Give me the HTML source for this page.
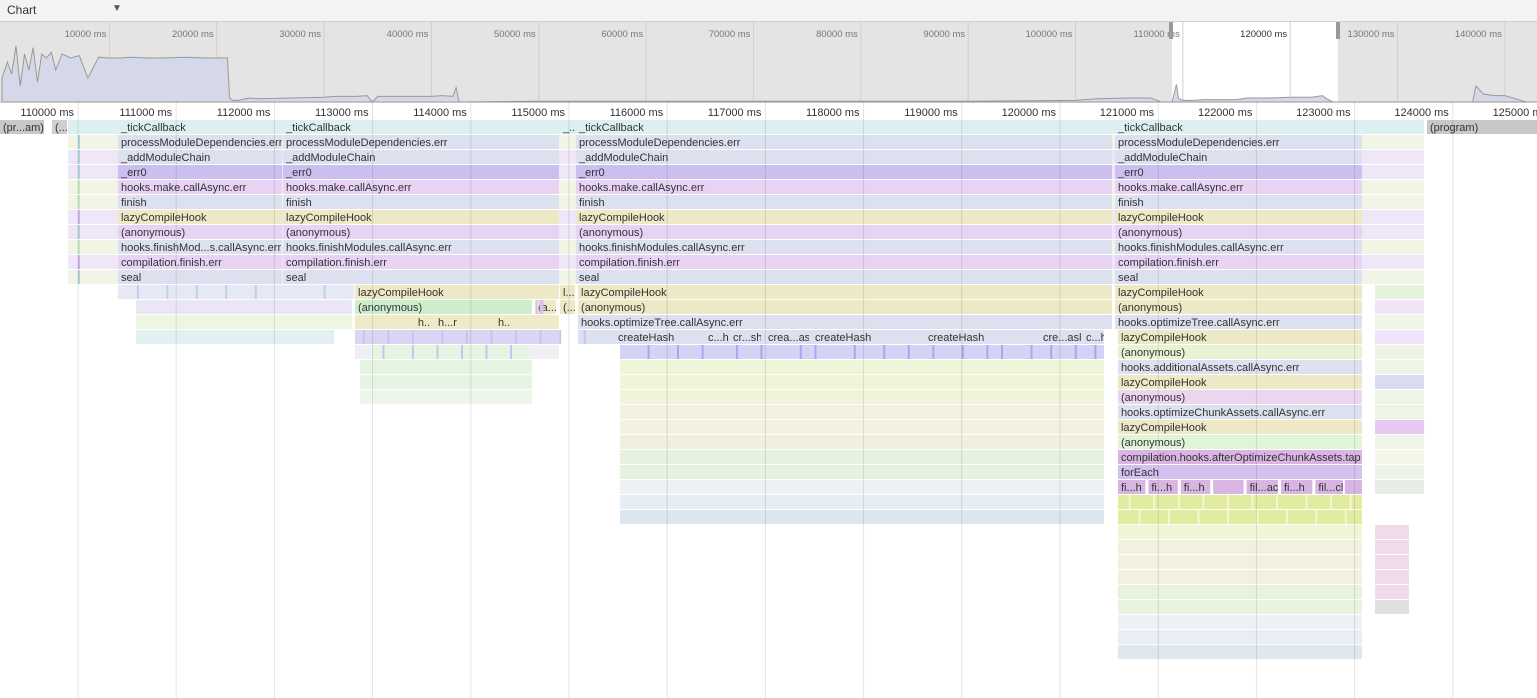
<!DOCTYPE html>
<html><head><meta charset="utf-8">
<style>
html,body{margin:0;padding:0;background:#fff;width:1537px;height:698px;overflow:hidden;font-family:"Liberation Sans",sans-serif;}
#hdr{position:absolute;left:0;top:0;width:1537px;height:21px;background:#f3f3f3;border-bottom:1px solid #d0d0d0;}
#hdr .t{position:absolute;left:7px;top:3px;font-size:12px;color:#333;}
#hdr .a{position:absolute;left:112px;top:3px;font-size:10px;color:#555;}
svg{position:absolute;left:0;top:0;}
</style></head><body>
<div id="hdr"><span class="t">Chart</span><span class="a">▼</span></div>
<svg id="chart" width="1537" height="698"></svg>
<script>
// ---- overview data ----
const ovTicks=[10000,20000,30000,40000,50000,60000,70000,80000,90000,100000,110000,120000,130000,140000];
const ovTimes=[0,500,900,1300,1700,2100,2500,2900,3300,3700,4100,4600,5000,5600,6400,7200,8000,9000,10000,11000,12000,13500,15000,17000,19000,21000,21200,21500,22000,23000,24000,30000,31000,33000,34000,34500,35000,38000,40000,41000,42000,42300,42500,42600,50000,60000,70000,80000,90000,100000,102000,105000,107000,108000,108500,109000,109400,109600,110000,111000,112000,115000,116000,118000,120000,121000,122000,123000,123400,124000,130000,135000,137000,137300,138000,139000,140000,142000,143000];
const ovVals=[0.3,0.5,0.35,0.7,0.2,0.6,0.4,0.68,0.25,0.6,0.55,0.62,0.4,0.6,0.55,0.58,0.3,0.56,0.55,0.55,0.56,0.55,0.55,0.56,0.55,0.55,0.05,0.02,0.02,0.05,0.04,0.06,0.07,0.07,0.08,0.0,0.07,0.07,0.07,0.08,0.07,0.18,0.05,0.0,0.01,0.01,0.01,0.01,0.01,0.02,0.04,0.05,0.05,0.0,0.0,0.0,0.22,0.04,0.02,0.02,0.03,0.03,0.05,0.05,0.06,0.06,0.06,0.08,0.04,0.0,0.0,0.0,0.0,0.2,0.1,0.08,0.08,0.0,0.0];
// ---- main flame chart data ----
const axTicks=[110000,111000,112000,113000,114000,115000,116000,117000,118000,119000,120000,121000,122000,123000,124000,125000];
const segRows=[0,0,0,0,0,0,0,0,1,1,1,1,1,2,2,2,2,2,3,3,3,3,3,4,4,4,4,4,5,5,5,5,5,6,6,6,6,6,7,7,7,7,7,8,8,8,8,8,9,9,9,9,9,10,10,10,10,10,
11,11,11,11,11,12,12,12,12,12,13,13,13,14,14,14,14,14,14,14,14,14,14,14,15,15,15,16,16,16,17,17,17,18,18,18,19,19,20,20,21,21,22,22,23,23,24,24,24,24,24,24,24,24,24,25,25,26,26,27,28,29,30,31,32,33,34,35,27,28,29,30,31,32,
0,12,13,14,15,13,13,13,11,12,13,14,15,16,17,18,19,20,21,22,23,24];
const segStart=[109206,109735,109898,110407,112088,114908,115071,120560,109898,110407,112088,115071,120560,109898,110407,112088,115071,120560,109898,110407,112088,115071,120560,109898,110407,112088,115071,120560,109898,110407,112088,115071,120560,109898,110407,112088,115071,120560,109898,110407,112088,115071,120560,109898,110407,112088,115071,120560,109898,110407,112088,115071,120560,109898,110407,112088,115071,120560,
110407,112821,114908,115092,120560,112821,114654,114908,115092,120560,112821,115092,120560,112821,115092,115468,116385,116640,116996,117474,118625,119796,120234,120590,112821,115519,120590,115519,112872,120590,115519,112872,120590,115519,112872,120590,115519,120590,115519,120590,115519,120590,115519,120590,115519,120590,115519,120590,120900,121230,121560,121900,122250,122600,122900,115519,120590,115519,120590,120590,120590,120590,120590,120590,120590,120590,120590,120590,123208,123208,123208,123208,123208,123208,
123737,110591,110591,110591,112994,113431,113635,114246,123208,123208,123208,123208,123208,123208,123208,123208,123208,123208,123208,123208,123208,123208];
const segEnd=[109664,109898,123717,112088,114908,115071,120539,123085,123717,112088,114908,120539,123085,123717,112088,114908,120539,123085,123717,112088,114908,120539,123085,123717,112088,114908,120539,123085,123717,112088,114908,120539,123085,123717,112088,114908,120539,123085,123717,112088,114908,120539,123085,123717,112088,114908,120539,123085,123717,112088,114908,120539,123085,123717,112088,114908,120539,123085,
112821,114908,115071,120539,123085,114633,114878,115071,120539,123085,114908,120539,123085,114908,120458,116334,116640,116965,117454,118600,119796,120224,120458,123085,114908,120458,123085,120458,114633,123085,120458,114633,123085,120458,114633,123085,120458,123085,120458,123085,120458,123085,120458,123085,120458,123085,120458,120880,121210,121540,121880,122230,122580,122890,123085,120458,123085,120458,123085,123085,123085,123085,123085,123085,123085,123085,123085,123085,123564,123564,123564,123564,123564,123564,
124900,112800,112800,112617,114603,113605,113910,114419,123717,123717,123717,123717,123717,123717,123717,123717,123717,123717,123717,123717,123717,123717];
const segLabels=["(pr...am)","(...","","_tickCallback","_tickCallback","_...","_tickCallback","_tickCallback",
"","processModuleDependencies.err","processModuleDependencies.err","processModuleDependencies.err","processModuleDependencies.err",
"","_addModuleChain","_addModuleChain","_addModuleChain","_addModuleChain",
"","_err0","_err0","_err0","_err0",
"","hooks.make.callAsync.err","hooks.make.callAsync.err","hooks.make.callAsync.err","hooks.make.callAsync.err",
"","finish","finish","finish","finish",
"","lazyCompileHook","lazyCompileHook","lazyCompileHook","lazyCompileHook",
"","(anonymous)","(anonymous)","(anonymous)","(anonymous)",
"","hooks.finishMod...s.callAsync.err","hooks.finishModules.callAsync.err","hooks.finishModules.callAsync.err","hooks.finishModules.callAsync.err",
"","compilation.finish.err","compilation.finish.err","compilation.finish.err","compilation.finish.err",
"","seal","seal","seal","seal",
"","lazyCompileHook","l...","lazyCompileHook","lazyCompileHook",
"(anonymous)","(a...)","(...","(anonymous)","(anonymous)",
"","hooks.optimizeTree.callAsync.err","hooks.optimizeTree.callAsync.err",
"","","createHash","c...h","cr...sh","crea...ash","createHash","createHash","cre...ash","c...h","lazyCompileHook",
"","","(anonymous)","","","hooks.additionalAssets.callAsync.err","","","lazyCompileHook","","","(anonymous)",
"","hooks.optimizeChunkAssets.callAsync.err","","lazyCompileHook","","(anonymous)","","compilation.hooks.afterOptimizeChunkAssets.tap","","forEach",
"","fi...h","fi...h","fi...h","","fil...ach","fi...h","fil...ch","",
"","","","","","","","","","","","","","","","","","","",
"(program)","","","","","h...","h...r","h...","","","","","","","","","","","","","",""];
const segColors=["#c8c8c8","#cfcfcf","#ddf0f0","#ddf0f0","#ddf0f0","#ddf0f0","#ddf0f0","#ddf0f0",
"#f1f5e6","#dde0ef","#dde0ef","#dde0ef","#dde0ef",
"#efe6f7","#dde0ef","#dde0ef","#dde0ef","#dde0ef",
"#efe6f7","#cbbff0","#cbbff0","#cbbff0","#cbbff0",
"#f1f5e6","#e8d3f5","#e8d3f5","#e8d3f5","#e8d3f5",
"#f1f5e6","#dde0ef","#dde0ef","#dde0ef","#dde0ef",
"#efe6f7","#ede8c6","#ede8c6","#ede8c6","#ede8c6",
"#efe6f7","#e8d3f5","#e8d3f5","#e8d3f5","#e8d3f5",
"#f1f5e6","#dde0ef","#dde0ef","#dde0ef","#dde0ef",
"#efe6f7","#e8d3f5","#e8d3f5","#e8d3f5","#e8d3f5",
"#f1f5e6","#dde0ef","#dde0ef","#dde0ef","#dde0ef",
"#e6e9f5","#ede8c6","#ede8c6","#ede8c6","#ede8c6",
"#cdeecd","#ede8c6","#ede8c6","#ede8c6","#ede8c6",
"#efebc9","#dde0ef","#dde0ef",
"#d8d5f5","#dde0ef","#dde0ef","#dde0ef","#dde0ef","#dde0ef","#dde0ef","#dde0ef","#dde0ef","#dde0ef","#ede8c6",
"#efeff4","#d5d3f5","#e8f3d5","#eff5d8","#e6f5e3","#dde0ef","#eff5d8","#e6f5e3","#ede8c6","#eef5d8","#eef5ea","#ecd5ef",
"#f3f1df","#dde0ef","#f3f1df","#ede8c6","#f3efe0","#e0f5d8","#e6f2df","#d9b5e3","#e6f2df","#d5c0f0",
"#edf1f5","#d9b5e3","#d9b5e3","#d9b5e3","#d9b5e3","#d9b5e3","#d9b5e3","#d9b5e3","#d9b5e3",
"#e6edf4","#e2eca0","#dde6ef","#e2eca0","#f0f5d5","#f3f0e0","#f3f0e0","#f3f0e0","#e8f3df","#eaf3e0","#edf1f5","#e8eef5","#dfe7ef","#efdcea","#efdcea","#efdcea","#efdcea","#efdcea","#e0e0e0",
"#c8c8c8","#ebe6f5","#eef5e0","#e3f0f3","#e6f5e3","#efebc9","#efebc9","#efebc9",
"#e6f3dc","#f1e3f8","#eef5e6","#f1e3f8","#eef5e6","#eef5e6","#d8dcf0","#eef5e6","#eef5e6","#e8c8f0","#eef5e6","#f5f5ea","#eef5e6","#e6ede6"];
// stripes (thin darker call marks)
const stripeRows=[15,15,15,15,15,15,15,15,15,15,15,15,15,15,15,15,15,15,25,25,25,25,25,25,25,25,25,25,26,26,26,26,26,26,26,26,14,14,14,14,14,14,14,14,14,14,12,12,12,11,11,11,11,11,11,1,2,3,4,5,6,7,8,9,10,15,15,15,15,15,15];
const stripeTimes=[115800,116100,116350,116700,116950,117350,117500,117900,118200,118450,118700,119000,119250,119400,119700,119900,120150,120350,120700,120950,121200,121450,121700,121950,122200,122500,122750,122950,120800,121100,121400,121700,122000,122300,122600,122900,112900,113150,113400,113700,113950,114200,114450,114700,114900,115150,114660,114700,114720,110600,110900,111200,111500,111800,112500,110000,110000,110000,110000,110000,110000,110000,110000,110000,110000,113100,113400,113650,113900,114150,114400];
const stripeColors=["#a9a5ee","#a9a5ee","#a9a5ee","#a9a5ee","#a9a5ee","#a9a5ee","#a9a5ee","#a9a5ee","#a9a5ee","#a9a5ee","#a9a5ee","#a9a5ee","#a9a5ee","#a9a5ee","#a9a5ee","#a9a5ee","#a9a5ee","#a9a5ee","#f4f7d0","#f4f7d0","#f4f7d0","#f4f7d0","#f4f7d0","#f4f7d0","#f4f7d0","#f4f7d0","#f4f7d0","#f4f7d0","#f4f7d0","#f4f7d0","#f4f7d0","#f4f7d0","#f4f7d0","#f4f7d0","#f4f7d0","#f4f7d0","#c9c3f0","#c9c3f0","#c9c3f0","#c9c3f0","#c9c3f0","#c9c3f0","#c9c3f0","#c9c3f0","#c9c3f0","#c9c3f0","#d8c0f0","#d8c0f0","#d8c0f0","#c8cce6","#c8cce6","#c8cce6","#c8cce6","#c8cce6","#c8cce6","#a8d5e0","#a8d5e0","#a8d5e0","#c0e8c0","#c0e8c0","#d0b0e8","#a8d5e0","#c0e8c0","#d0b0e8","#a8d5e0","#c9c3f0","#c9c3f0","#c9c3f0","#c9c3f0","#c9c3f0","#c9c3f0"];

const NS="http://www.w3.org/2000/svg";
const svg=document.getElementById('chart');
function mk(tag,attrs,parent){const e=document.createElementNS(NS,tag);for(const k in attrs)e.setAttribute(k,attrs[k]);(parent||svg).appendChild(e);return e;}
const ox=t=>2+t*0.010735;
const oy=v=>102-v*80;
const mx=t=>78+(t-110000)*0.0982;
const rowY=r=>120+r*15;

// overview
const ov=mk('g',{});


mk('rect',{x:0,y:22,width:1537,height:80,fill:'#e4e4e4'},ov);
const sel=mk('rect',{x:1172,y:22,width:166,height:80,fill:'#ffffff'},ov);


ovTicks.forEach(t=>{
  const x=ox(t);
  mk('line',{x1:x,y1:22,x2:x,y2:102,stroke:'#cfcfcf','stroke-width':1},ov);
  const tx=mk('text',{x:x-3,y:37,'text-anchor':'end','font-size':'9.5',fill:t===120000?'#333':'#777'},ov);
  tx.textContent=t+' ms';
  
  
});
let pts=ovTimes.map((t,i)=>ox(t)+','+oy(ovVals[i])).join(' ');
const area=mk('polygon',{points:ox(0)+',102 '+pts+' '+ox(ovTimes[ovTimes.length-1])+',102',fill:'#d5d8e8',stroke:'#999','stroke-width':1},ov);


const h1=mk('rect',{x:1169,y:22,width:4,height:17,fill:'#999'},ov);


const h2=mk('rect',{x:1336,y:22,width:4,height:17,fill:'#999'},ov);


mk('line',{x1:0,y1:102.5,x2:1537,y2:102.5,stroke:'#c8c8c8'},ov);

// main axis
const ax=mk('g',{});


axTicks.forEach(t=>{
  const tx=mk('text',{x:mx(t)-4,y:116,'text-anchor':'end','font-size':'11',fill:'#333'},ax);
  tx.textContent=t+' ms';
  
  
});

// flame bars
const fg=mk('g',{'font-size':'11'});


segRows.forEach((r,i)=>{
  const x0=mx(segStart[i]),x1=mx(segEnd[i]);
  const w=Math.max(1,x1-x0-1);
  const b=mk('rect',{x:x0,y:rowY(r),width:w,height:14,fill:segColors[i]},fg);
  
  
  if(segLabels[i]){
    const cp='c'+i;
    const c=mk('clipPath',{id:cp},fg);mk('rect',{x:x0,y:rowY(r),width:w,height:14},c);
    const tx=mk('text',{x:x0+3,y:rowY(r)+11,fill:'#333','clip-path':'url(#'+cp+')'},fg);
    tx.textContent=segLabels[i];
    
    
  }
});
stripeRows.forEach((r,i)=>{
  const s=mk('rect',{x:mx(stripeTimes[i]),y:rowY(r),width:2,height:14,fill:stripeColors[i]},fg);
  
  
});
// gridlines over everything
const gl=mk('g',{});


axTicks.forEach(t=>{mk('line',{x1:mx(t),y1:102,x2:mx(t),y2:698,stroke:'rgba(0,0,0,0.11)','stroke-width':1},gl);});
</script>
</body></html>
